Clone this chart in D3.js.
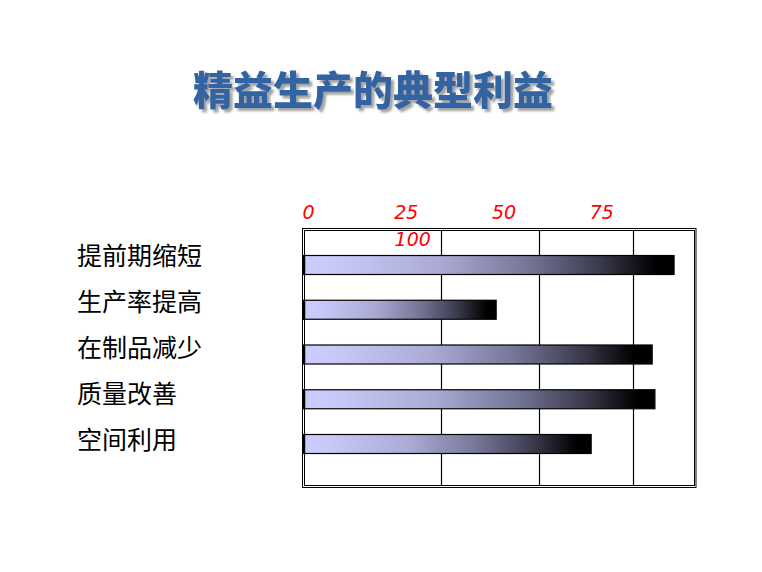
<!DOCTYPE html>
<html>
<head>
<meta charset="utf-8">
<script src="https://cdn.jsdelivr.net/npm/d3@7"></script>
<style>
  html, body { margin: 0; padding: 0; background: #fff; }
</style>
</head>
<body>
<div id="chart"></div>
<script>
// Chart data
const title = "精益生产的典型利益";
const categories = ["提前期缩短", "生产率提高", "在制品减少", "质量改善", "空间利用"];
const values = [94.9, 49.4, 89.3, 90.0, 73.7];
const tickValues = [0, 25, 50, 75];
const wrappedTick = "100";
const gridValues = [35.3, 60.4, 84.4];

(function () {
  const [w, h] = [762, 572];

  // plot box
  const left = 303, right = 694, top = 230, bottom = 485;

  const svg = d3.select("#chart")
    .append("svg")
    .attr("width", w)
    .attr("height", h);

  svg.append("rect")
    .attr("width", w)
    .attr("height", h)
    .attr("fill", "#fff");

  // Scales
  const xScale = d3.scaleLinear()
    .domain([0, 100])
    .range([left, right]);

  const yScale = d3.scalePoint()
    .domain(categories)
    .range([265, 444]);

  const labelScale = d3.scalePoint()
    .domain(categories)
    .range([254, 438]);

  const barHeight = 19;

  const defs = svg.append("defs");

  // Bar gradient
  const grad = defs.append("linearGradient")
    .attr("id", "barFill")
    .attr("x1", "0").attr("x2", "1")
    .attr("y1", "0").attr("y2", "0");
  [
    [0, "#ccccff"],
    [0.1, "#c8c8f8"],
    [0.37, "#aaaad4"],
    [0.6, "#77779a"],
    [0.8, "#3a3a4c"],
    [0.95, "#000000"],
    [1, "#000000"]
  ].forEach(([o, c]) => {
    grad.append("stop").attr("offset", o).attr("stop-color", c);
  });

  // Title shadow
  defs.append("filter")
    .attr("id", "titleShadow")
    .attr("x", "-10%").attr("y", "-20%")
    .attr("width", "120%").attr("height", "150%")
    .append("feDropShadow")
    .attr("dx", 3)
    .attr("dy", 3)
    .attr("stdDeviation", 0.8)
    .attr("flood-color", "#9a9a9a")
    .attr("flood-opacity", 0.9);

  svg.append("text")
    .attr("x", 373)
    .attr("y", 105)
    .attr("text-anchor", "middle")
    .attr("fill", "#3064a2")
    .attr("filter", "url(#titleShadow)")
    .style("font-family", "'Noto Sans CJK SC', sans-serif")
    .style("font-weight", 900)
    .style("font-size", "40px")
    .text(title);

  // Double frame
  svg.append("rect")
    .attr("x", 302.5)
    .attr("y", 228.5)
    .attr("width", 393.5)
    .attr("height", 259)
    .attr("fill", "none")
    .attr("stroke", "#000")
    .attr("stroke-width", 1);

  svg.append("rect")
    .attr("x", 304.5)
    .attr("y", 230.5)
    .attr("width", 390)
    .attr("height", 255)
    .attr("fill", "none")
    .attr("stroke", "#000")
    .attr("stroke-width", 1);

  // Gridlines
  svg.selectAll("line.grid")
    .data(gridValues)
    .enter()
    .append("line")
    .attr("class", "grid")
    .attr("x1", (d) => Math.round(xScale(d)) + 0.5)
    .attr("x2", (d) => Math.round(xScale(d)) + 0.5)
    .attr("y1", top)
    .attr("y2", bottom)
    .attr("stroke", "#000")
    .attr("stroke-width", 1.2);

  // Bars
  svg.selectAll("rect.bar")
    .data(values)
    .enter()
    .append("rect")
    .attr("class", "bar")
    .attr("x", xScale(0))
    .attr("y", (d, i) => yScale(categories[i]) - barHeight / 2)
    .attr("width", (d) => xScale(d) - xScale(0))
    .attr("height", barHeight)
    .attr("fill", "url(#barFill)")
    .attr("stroke", "#000")
    .attr("stroke-width", 1.2);

  // thick left edge on each bar
  svg.selectAll("line.edge")
    .data(values)
    .enter()
    .append("line")
    .attr("class", "edge")
    .attr("x1", xScale(0) + 1)
    .attr("x2", xScale(0) + 1)
    .attr("y1", (d, i) => yScale(categories[i]) - barHeight / 2)
    .attr("y2", (d, i) => yScale(categories[i]) + barHeight / 2)
    .attr("stroke", "#000")
    .attr("stroke-width", 2.5);

  // Top axis labels
  const xAxis = d3.axisTop(xScale)
    .tickValues(tickValues)
    .tickSize(0)
    .tickPadding(0)
    .tickFormat(d3.format("d"));

  const axisG = svg.append("g")
    .attr("transform", "translate(5, 219)")
    .call(xAxis);
  axisG.select(".domain").remove();
  axisG.selectAll("text")
    .attr("y", 0)
    .attr("dy", 0)
    .attr("fill", "#ff0000")
    .style("font-family", "'Comic Sans MS', 'DejaVu Sans', sans-serif")
    .style("font-style", "italic")
    .style("font-size", "19px");

  // "100" wraps onto a second line below "25"
  svg.append("text")
    .attr("x", xScale(25) + 12)
    .attr("y", 246)
    .attr("text-anchor", "middle")
    .attr("fill", "#ff0000")
    .style("font-family", "'Comic Sans MS', 'DejaVu Sans', sans-serif")
    .style("font-style", "italic")
    .style("font-size", "19px")
    .text(wrappedTick);

  // Category labels
  svg.selectAll("text.cat")
    .data(categories)
    .enter()
    .append("text")
    .attr("class", "cat")
    .attr("x", 77)
    .attr("y", (d) => labelScale(d))
    .attr("dominant-baseline", "central")
    .attr("fill", "#000")
    .style("font-family", "'Noto Sans CJK SC', sans-serif")
    .style("font-size", "25px")
    .text((d) => d);
})();
</script>
</body>
</html>
